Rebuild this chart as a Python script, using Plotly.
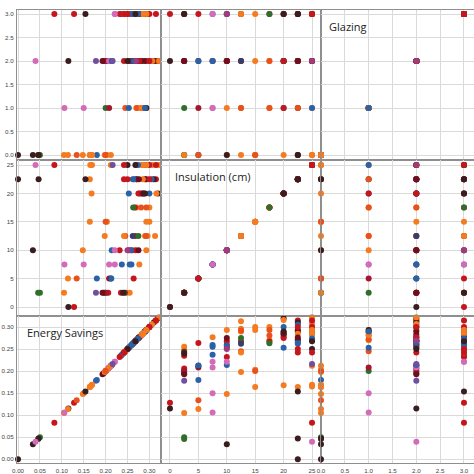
import plotly.graph_objects as go

# ---- data: one record per entry ----
insulation = [0, 0,
              2.5, 2.5, 2.5, 2.5, 2.5, 2.5, 2.5, 2.5, 2.5, 2.5, 2.5, 2.5, 2.5, 2.5,
              5, 5, 5, 5, 5, 5, 5,
              7.5, 7.5, 7.5, 7.5, 7.5, 7.5, 7.5, 7.5,
              10, 10, 10, 10, 10, 10, 10, 10, 10, 10, 10, 10,
              12.5, 12.5, 12.5, 12.5, 12.5, 12.5, 12.5, 12.5, 12.5, 12.5,
              15, 15, 15, 15, 15,
              17.5, 17.5, 17.5, 17.5, 17.5, 17.5,
              20, 20, 20, 20, 20, 20, 20, 20, 20, 20, 20,
              22.5, 22.5, 22.5, 22.5, 22.5, 22.5, 22.5, 22.5, 22.5, 22.5, 22.5, 22.5, 22.5, 22.5, 22.5, 22.5, 22.5, 22.5,
              25, 25, 25, 25, 25, 25, 25, 25, 25, 25, 25, 25, 25, 25, 25, 25, 25, 25, 25]
glazing = [3, 2,
           0, 0, 0, 1, 2, 2, 2, 2, 2, 3, 3, 3, 3, 3,
           0, 0, 0, 1, 2, 2, 3,
           1, 1, 2, 2, 2, 2, 3, 3,
           0, 0, 1, 2, 2, 2, 2, 2, 3, 3, 3, 3,
           0, 1, 1, 2, 2, 2, 3, 3, 3, 3,
           0, 0, 0, 2, 3,
           1, 1, 2, 2, 3, 3,
           0, 1, 1, 2, 2, 2, 2, 2, 3, 3, 3,
           0, 0, 0, 1, 1, 2, 2, 2, 2, 2, 2, 2, 3, 3, 3, 3, 3, 3,
           0, 0, 0, 1, 1, 2, 2, 2, 2, 2, 2, 2, 3, 3, 3, 3, 3, 3, 3]
savings = [0.128, 0.115,
           0.050, 0.046, 0.105, 0.200, 0.178, 0.196, 0.206, 0.201, 0.193, 0.235, 0.248, 0.255, 0.244, 0.240,
           0.114, 0.180, 0.134, 0.208, 0.212, 0.213, 0.264,
           0.150, 0.106, 0.208, 0.277, 0.259, 0.255, 0.237, 0.221,
           0.148, 0.034, 0.293, 0.214, 0.268, 0.260, 0.253, 0.275, 0.232, 0.221, 0.258, 0.250,
           0.198, 0.290, 0.245, 0.313, 0.268, 0.262, 0.296, 0.275, 0.292, 0.242,
           0.164, 0.203, 0.200, 0.300, 0.293,
           0.270, 0.281, 0.300, 0.293, 0.267, 0.263,
           0.168, 0.253, 0.288, 0.320, 0.316, 0.300, 0.283, 0.278, 0.275, 0.285, 0.290,
           0.164, 0.000, 0.047, 0.293, 0.272, 0.315, 0.310, 0.305, 0.270, 0.265, 0.242, 0.290, 0.300, 0.285, 0.262, 0.250, 0.276, 0.154,
           0.212, 0.169, 0.165, 0.282, 0.290, 0.040, 0.216, 0.322, 0.307, 0.300, 0.250, 0.270, 0.083, 0.293, 0.286, 0.274, 0.268, 0.242, 0.315]
group = ["red", "dark",
         "green", "green", "orange", "green", "purple", "dark", "red", "crimson", "maroon", "red", "orange", "orange", "brown", "dark",
         "orange", "blue", "orangered", "crimson", "dark", "blue", "red",
         "pink", "pink", "pink", "orange", "blue", "blue", "blue", "pink",
         "orange", "dark", "orange", "blue", "red", "red", "crimson", "maroon", "red", "pink", "blue", "magenta",
         "orange", "orange", "orangered", "orange", "red", "navy", "orange", "green", "orangered", "orange",
         "orange", "orange", "orangered", "orange", "orange",
         "orange", "orangered", "orange", "orangered", "red", "green",
         "orange", "blue", "red", "dark", "orange", "blue", "dark", "red", "red", "maroon", "dark",
         "orange", "dark", "dark", "dark", "orangered", "red", "dark", "blue", "dark", "blue", "red", "maroon", "red", "orange", "blue", "red", "maroon", "dark",
         "orange", "orange", "orange", "orange", "blue", "pink", "purple", "orange", "orange", "red", "dark", "magenta", "red", "orange", "orange", "blue", "dark", "red", "red"]

palette = {
    "orange": "#f47b20", "orangered": "#e8501c", "red": "#c4161c", "crimson": "#a3162d",
    "maroon": "#6e0f1e", "dark": "#3a1d1f", "brown": "#5a3328", "blue": "#2a62a8",
    "navy": "#333f6e", "pink": "#d36bb8", "magenta": "#a23a7d", "purple": "#6f4f9f",
    "green": "#2f6e2b",
}

labels = ["Energy Savings", "Insulation (cm)", "Glazing"]

W = H = 474
col_px = [(17, 161), (161, 321), (321, 474)]
row_px = [(10, 160), (160, 316), (316, 463)]
col_vars = [savings, insulation, glazing]
row_vars = [glazing, insulation, savings]
col_ranges = [[-0.0023, 0.3265], [-1.58, 26.58], [0, 3.21]]
row_ranges = [[-0.106, 3.085], [-1.58, 25.88], [-0.0084, 0.325]]
col_ticks = [dict(dtick=0.05, tick0=0, tickformat=".2f"), dict(dtick=5, tick0=0), dict(dtick=0.5, tick0=0, tickformat=".1f")]
row_ticks = [dict(dtick=0.5, tick0=0, tickformat=".1f"), dict(dtick=5, tick0=0), dict(dtick=0.05, tick0=0, tickformat=".2f")]

colors = [palette[g] for g in group]
fig = go.Figure()
layout = {}
tickfont = dict(family="Liberation Sans, Arial", size=6.2, color="#444")
for r in range(3):
    for c in range(3):
        k = r * 3 + c + 1
        xs = "" if k == 1 else str(k)
        fig.add_trace(go.Scatter(
            x=col_vars[c], y=row_vars[r], mode="markers",
            marker=dict(color=colors, size=6, line=dict(width=0)),
            xaxis="x" + xs, yaxis="y" + xs, cliponaxis=False,
            hoverinfo="skip", showlegend=False))
        common = dict(showgrid=True, gridcolor="#dadada", gridwidth=1, showline=True,
                      linecolor="#8f8f8f", linewidth=1.2, mirror=True, zeroline=False,
                      automargin=False, tickfont=tickfont, ticks="", ticklabelstandoff=1)
        layout["xaxis" + xs] = dict(
            domain=[col_px[c][0] / W, col_px[c][1] / W], range=col_ranges[c],
            anchor="y" + xs, showticklabels=(r == 2), **col_ticks[c], **common)
        layout["yaxis" + xs] = dict(
            domain=[1 - row_px[r][1] / H, 1 - row_px[r][0] / H], range=row_ranges[r],
            anchor="x" + xs, showticklabels=(c == 0), **row_ticks[r], **common)

fig.update_layout(**layout)
annots = [
    dict(text=labels[2], x=327 / W, y=1 - 26 / H),
    dict(text=labels[1], x=173 / W, y=1 - 176 / H),
    dict(text=labels[0], x=25 / W, y=1 - 332 / H),
]
for a in annots:
    fig.add_annotation(xref="paper", yref="paper", showarrow=False, xanchor="left",
                       yanchor="middle", font=dict(family="Open Sans", size=11, color="#222"), **a)

fig.update_layout(width=W, height=H, margin=dict(l=0, r=0, t=0, b=0),
                  paper_bgcolor="white", plot_bgcolor="white")
fig.write_html("out.html")
